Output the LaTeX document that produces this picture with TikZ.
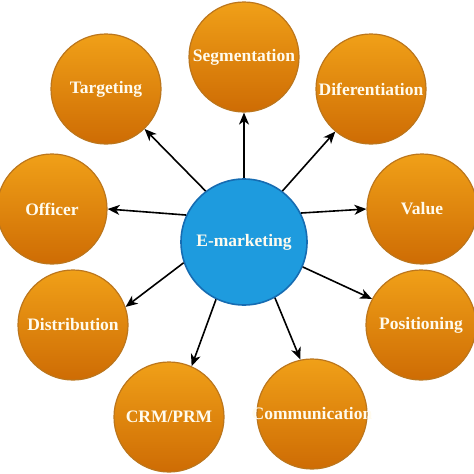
\documentclass[tikz,border=0pt]{standalone}
\usepackage{fontspec}
\setmainfont{Liberation Serif}
\usetikzlibrary{arrows.meta}
\definecolor{otop}{RGB}{240,160,24}
\definecolor{obot}{RGB}{206,108,4}
\definecolor{oline}{RGB}{188,118,28}
\definecolor{bfill}{RGB}{30,155,222}
\definecolor{bline}{RGB}{22,108,178}
\definecolor{txt}{RGB}{255,251,238}
\begin{document}
\begin{tikzpicture}[x=1pt,y=-1pt,
  orb/.style={circle, minimum size=110pt, inner sep=0pt, draw=oline, line width=1.2pt,
    top color=otop, bottom color=obot, text=txt, font=\fontsize{17.5}{20}\selectfont\bfseries},
  hub/.style={circle, minimum size=126pt, inner sep=0pt, draw=bline, line width=1.6pt,
    fill=bfill, text=txt, font=\fontsize{17.5}{20}\selectfont\bfseries},
  link/.style={-{Stealth[length=12pt,width=10pt,inset=3.5pt]}, line width=1.6pt, black}]
\useasboundingbox (0,0) rectangle (474,474);
\node[hub] (E) at (244,242) {\makebox[0pt]{E-marketing}};
\node[orb] (Seg) at (244,57) {\makebox[0pt]{Segmentation}};
\node[orb] (Dif) at (371,89) {\makebox[0pt]{Diferentiation}};
\node[orb] (Val) at (422,209) {\makebox[0pt]{Value}};
\node[orb] (Pos) at (421,325) {\makebox[0pt]{Positioning}};
\node[orb] (Com) at (312,414) {\makebox[0pt]{Communication}};
\node[orb] (CRM) at (169,417) {\makebox[0pt]{CRM/PRM}};
\node[orb] (Dis) at (73,325) {\makebox[0pt]{Distribution}};
\node[orb] (Off) at (52,209) {\makebox[0pt]{Officer}};
\node[orb] (Tar) at (106,89) {\makebox[0pt]{Targeting}};
\draw[link] (E.90) -- (Seg.-90);
\draw[link] (E.53) -- (Dif.230);
\draw[link] (E.27) -- (Val.180);
\draw[link] (E.-23) -- (Pos.152);
\draw[link] (E.-61) -- (Com.102);
\draw[link] (E.-116) -- (CRM.66);
\draw[link] (E.199) -- (Dis.19);
\draw[link] (E.155) -- (Off.0);
\draw[link] (E.127) -- (Tar.-46);
\end{tikzpicture}
\end{document}
